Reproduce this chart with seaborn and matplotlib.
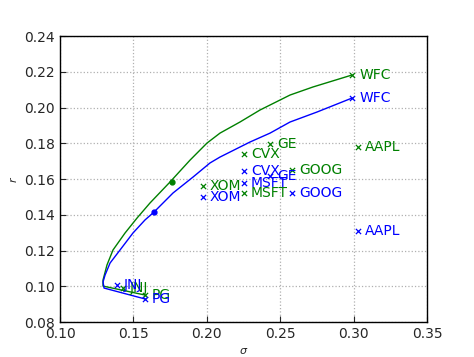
import numpy as np
import pandas as pd
import matplotlib
matplotlib.use('Agg')
import matplotlib.pyplot as plt
import seaborn as sns

# 종목별 (sigma, r) - 두 시나리오
tickers = ['WFC', 'AAPL', 'GE', 'CVX', 'MSFT', 'XOM', 'GOOG', 'JNJ', 'PG']
blue_sigma = [0.299, 0.303, 0.243, 0.2253, 0.2253, 0.1974, 0.258, 0.1388, 0.1579]
blue_r = [0.2053, 0.131, 0.1617, 0.1645, 0.1578, 0.150, 0.152, 0.1008, 0.0929]
green_sigma = [0.299, 0.303, 0.243, 0.2253, 0.2253, 0.1974, 0.258, 0.1429, 0.1579]
green_r = [0.2182, 0.178, 0.1796, 0.174, 0.1522, 0.1561, 0.165, 0.099, 0.0951]

# efficient frontier
blue_front_sigma = [0.1579, 0.1300, 0.1293, 0.1307, 0.1341, 0.1409, 0.1497, 0.1579,
                    0.1640, 0.1770, 0.1906, 0.2022, 0.2090, 0.2294, 0.2431, 0.2567,
                    0.2751, 0.2989]
blue_front_r = [0.0929, 0.0990, 0.1024, 0.1063, 0.1130, 0.1203, 0.1298, 0.1371,
                0.1415, 0.1522, 0.1611, 0.1690, 0.1723, 0.1807, 0.1857, 0.1919,
                0.1975, 0.2053]
green_front_sigma = [0.1579, 0.1293, 0.1293, 0.1320, 0.1361, 0.1443, 0.1525, 0.1613,
                     0.1749, 0.1886, 0.2001, 0.2090, 0.2226, 0.2362, 0.2567, 0.2723,
                     0.2989]
green_front_r = [0.0951, 0.1001, 0.1035, 0.1119, 0.1203, 0.1298, 0.1382, 0.1466,
                 0.1583, 0.1706, 0.1801, 0.1857, 0.1919, 0.1986, 0.2070, 0.2115,
                 0.2182]

# 최적 포트폴리오 점
blue_opt = (0.1637, 0.1415)
green_opt = (0.1760, 0.1586)

BLUE = '#0000ff'
GREEN = '#008000'

sns.set_style('ticks')
plt.rcParams['font.family'] = ['DejaVu Sans']

fig = plt.figure(figsize=(4.74, 3.57), dpi=100)
ax = fig.add_axes([0.1266, 0.098, 0.7742, 0.801])

for fs, fr, color in [(green_front_sigma, green_front_r, GREEN),
                      (blue_front_sigma, blue_front_r, BLUE)]:
    df = pd.DataFrame({'sigma': fs, 'r': fr})
    sns.lineplot(data=df, x='sigma', y='r', sort=False, estimator=None,
                 color=color, lw=1.0, ax=ax)

for sig, rr, color in [(green_sigma, green_r, GREEN), (blue_sigma, blue_r, BLUE)]:
    df = pd.DataFrame({'sigma': sig, 'r': rr, 'name': tickers})
    sns.scatterplot(data=df, x='sigma', y='r', marker='x', s=14, color=color,
                    linewidth=0.9, ax=ax, zorder=3)
    for _, row in df.iterrows():
        ax.annotate(row['name'], (row['sigma'], row['r']), xytext=(5, 0),
                    textcoords='offset points', va='center', ha='left',
                    color=color, fontsize=10)

ax.plot(*green_opt, 'o', color=GREEN, ms=3.5)
ax.plot(*blue_opt, 'o', color=BLUE, ms=3.5)

ax.set_xlim(0.10, 0.35)
ax.set_ylim(0.08, 0.24)
ax.set_xticks(np.arange(0.10, 0.351, 0.05))
ax.set_yticks(np.arange(0.08, 0.241, 0.02))
ax.xaxis.set_major_formatter(matplotlib.ticker.FormatStrFormatter('%.2f'))
ax.yaxis.set_major_formatter(matplotlib.ticker.FormatStrFormatter('%.2f'))
ax.tick_params(direction='in', labelsize=10, length=4)
ax.grid(True, ls=':', color='#b0b0b0', lw=0.9)
for sp in ax.spines.values():
    sp.set_color('black')
    sp.set_linewidth(1.0)
ax.set_xlabel(r'$\sigma$', fontsize=8)
ax.set_ylabel(r'$r$', fontsize=8)

fig.savefig('out.png', dpi=100)
